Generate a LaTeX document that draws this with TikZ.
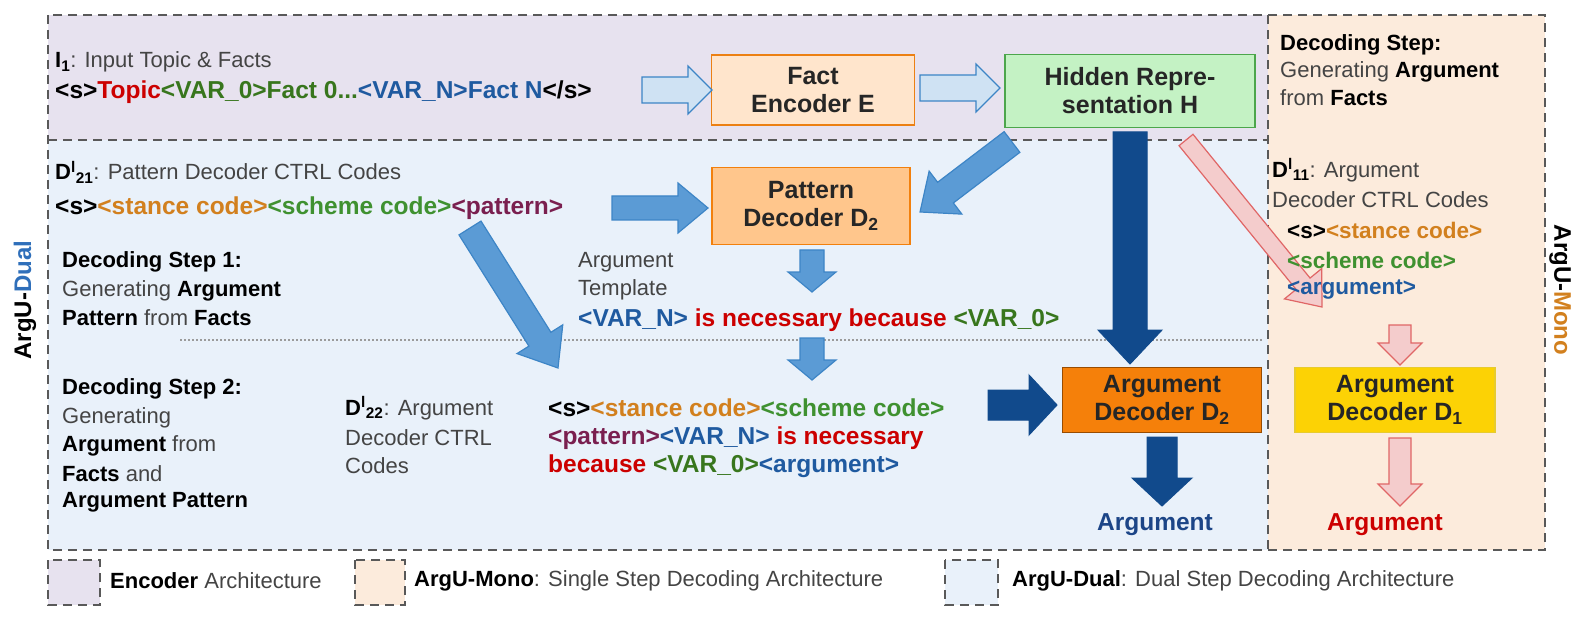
\documentclass[tikz,border=0pt]{standalone}
\usepackage{fontspec}
\setmainfont{Liberation Sans}
\begin{document}
\definecolor{encbg}{HTML}{E7E2EF}\definecolor{monobg}{HTML}{FCEBDC}\definecolor{dualbg}{HTML}{E9F1FA}
\definecolor{dash}{HTML}{595959}\definecolor{txg}{HTML}{444444}
\definecolor{cR}{HTML}{CC0000}\definecolor{cG}{HTML}{38761D}\definecolor{cB}{HTML}{1F5AA0}
\definecolor{cO}{HTML}{D2801E}\definecolor{cS}{HTML}{3F9130}\definecolor{cP}{HTML}{7A1F4F}
\definecolor{cDB}{HTML}{1C4587}\definecolor{cDual}{HTML}{2F6FBA}
\definecolor{lbF}{HTML}{CFE2F3}\definecolor{mbF}{HTML}{5B9BD5}\definecolor{bE}{HTML}{3D85C6}
\definecolor{dbF}{HTML}{114A8C}\definecolor{pkF}{HTML}{F4CCCC}\definecolor{pkE}{HTML}{E06666}
\newcommand\barrow[8]{%
 \pgfmathsetmacro\ang{atan2(#4-#2,#3-#1)}\pgfmathsetmacro\len{veclen(#3-#1,#4-#2)}%
 \begin{scope}[shift={(#1,#2)},rotate=\ang]
 \draw[#8] (0,-#5)--(\len-#7,-#5)--(\len-#7,-#6)--(\len,0)--(\len-#7,#6)--(\len-#7,#5)--(0,#5)--cycle;
 \end{scope}}
\begin{tikzpicture}[x=1pt,y=1pt,
 reg/.style={draw=dash,dashed,dash pattern=on 9pt off 6pt,line width=2pt},
 box/.style={draw,line width=1.5pt,align=center,font=\fontsize{25}{28}\selectfont\bfseries,text=black!85},
 lt/.style={anchor=west,inner sep=0,font=\fontsize{22}{26}\selectfont,text=txg},
 ct/.style={anchor=west,inner sep=0,font=\fontsize{24.5}{28}\selectfont\bfseries},
 mt/.style={anchor=west,inner sep=0,font=\fontsize{22.5}{26}\selectfont\bfseries},
 la/.style={fill=lbF,draw=bE,line width=1.2pt},
 ma/.style={fill=mbF,draw=bE,line width=1.2pt},
 da/.style={fill=dbF,draw=dbF,line width=1pt},
 pa/.style={fill=pkF,draw=pkE,line width=1.2pt}]
\useasboundingbox (0,0) rectangle (1581,-620);
% regions
\fill[encbg] (48,-15) rectangle (1268,-140);
\fill[dualbg] (48,-140) rectangle (1268,-550);
\fill[monobg] (1268,-15) rectangle (1545,-550);
\draw[reg] (48,-15) rectangle (1545,-550);
\draw[reg] (48,-140) -- (1268,-140);
\draw[reg] (1268,-15) -- (1268,-550);
\draw[dash!60,dotted,line width=2pt] (180,-340) -- (1262,-340);
% boxes
\node[box,fill=orange!20,draw=orange!70!brown,minimum width=203,minimum height=70] (fe) at (813,-90) {Fact\\Encoder E};
\node[box,fill=green!20!white!90!gray,draw=green!50!black!70,minimum width=250,minimum height=73] (hr) at (1130,-91) {Hidden Repre-\\sentation H};
\node[box,fill=orange!45,draw=orange!80!brown,minimum width=198,minimum height=77] (pd) at (811,-206) {Pattern\\Decoder D\textsubscript{2}};
\node[box,fill=orange!85!brown,draw=orange!60!black,minimum width=199,minimum height=65] (ad2) at (1162,-400) {Argument\\Decoder D\textsubscript{2}};
\node[box,fill=yellow!70!orange,draw=yellow!60!brown,minimum width=200,minimum height=65] (ad1) at (1395,-400) {Argument\\Decoder D\textsubscript{1}};
% arrows
\barrow{642}{-90}{712}{-90}{13}{24}{24}{la}
\barrow{920}{-88}{1000}{-88}{13}{24}{24}{la}
\barrow{1012}{-142}{920}{-212}{13}{27}{32}{ma}
\barrow{612}{-208}{708}{-208}{12}{25}{30}{ma}
\barrow{812}{-250}{812}{-292}{12}{24}{20}{ma}
\barrow{812}{-338}{812}{-380}{12}{24}{20}{ma}
\barrow{470}{-228}{558}{-368}{13}{27}{34}{ma}
\barrow{1130}{-132}{1130}{-364}{17}{32}{34}{da}
\barrow{988}{-405}{1057}{-405}{15}{30}{28}{da}
\barrow{1162}{-437}{1162}{-506}{15}{30}{28}{da}
\barrow{1186}{-140}{1322}{-307}{9}{24}{30}{pa}
\barrow{1400}{-325}{1400}{-365}{11}{22}{22}{pa}
\barrow{1400}{-438}{1400}{-506}{11}{22}{22}{pa}
% encoder texts
\node[lt] (i1) at (55,-62) {\textbf{\color{black}I\textsubscript{1}}: Input Topic \& Facts};
\node[ct] (il) at (55,-92) {<s>\textcolor{cR}{Topic}\textcolor{cG}{<VAR\_0>Fact 0...}\textcolor{cB}{<VAR\_N>Fact N}</s>};
% dual texts
\node[lt] (d21) at (55,-172) {\textbf{\color{black}D\textsuperscript{l}\textsubscript{21}}: Pattern Decoder CTRL Codes};
\node[ct] (d21c) at (55,-208) {<s>\textcolor{cO}{<stance code>}\textcolor{cS}{<scheme code>}\textcolor{cP}{<pattern>}};
\node[lt] (s1a) at (62,-262) {\textbf{\color{black}Decoding Step 1:}};
\node[lt] (s1b) at (62,-291) {Generating \textbf{\color{black}Argument}};
\node[lt] (s1c) at (62,-318) {\textbf{\color{black}Pattern} from \textbf{\color{black}Facts}};
\node[lt] (s2a) at (62,-389) {\textbf{\color{black}Decoding Step 2:}};
\node[lt] (s2b) at (62,-418) {Generating};
\node[lt] (s2c) at (62,-446) {\textbf{\color{black}Argument} from};
\node[lt] (s2d) at (62,-474) {\textbf{\color{black}Facts} and};
\node[lt] (s2e) at (62,-502) {\textbf{\color{black}Argument Pattern}};
\node[lt] (d22a) at (345,-408) {\textbf{\color{black}D\textsuperscript{l}\textsubscript{22}}: Argument};
\node[lt] (d22b) at (345,-438) {Decoder CTRL};
\node[lt] (d22c) at (345,-466) {Codes};
\node[ct] (c1) at (548,-408) {<s>\textcolor{cO}{<stance code>}\textcolor{cS}{<scheme code>}};
\node[ct] (c2) at (548,-438) {\textcolor{cP}{<pattern>}\textcolor{cB}{<VAR\_N>}~\textcolor{cR}{is necessary}};
\node[ct] (c3) at (548,-466) {\textcolor{cR}{because}~\textcolor{cG}{<VAR\_0>}\textcolor{cB}{<argument>}};
\node[lt] (at1) at (578,-262) {Argument};
\node[lt] (at2) at (578,-290) {Template};
\node[ct] (at3) at (578,-320) {\textcolor{cB}{<VAR\_N>}~\textcolor{cR}{is necessary because}~\textcolor{cG}{<VAR\_0>}};
\node[ct,anchor=center,text=cDB] (o2) at (1155,-525) {Argument};
\node[ct,anchor=center,text=cR] (o1) at (1385,-525) {Argument};
% mono texts
\node[lt] (m1) at (1280,-45) {\textbf{\color{black}Decoding Step:}};
\node[lt] (m2) at (1280,-72) {Generating \textbf{\color{black}Argument}};
\node[lt] (m3) at (1280,-98) {from \textbf{\color{black}Facts}};
\node[lt] (m4) at (1272,-170) {\textbf{\color{black}D\textsuperscript{l}\textsubscript{11}}: Argument};
\node[lt] (m5) at (1272,-200) {Decoder CTRL Codes};
\node[mt] (m6) at (1287,-230) {<s>\textcolor{cO}{<stance code>}};
\node[mt,text=cS] (m7) at (1287,-260) {<scheme code>};
\node[mt,text=cB] (m8) at (1287,-290) {<argument>};
% side labels
\node[rotate=90,font=\fontsize{24}{28}\selectfont\bfseries] (sd) at (25,-300) {ArgU-\textcolor{cDual}{Dual}};
\node[rotate=-90,font=\fontsize{24}{28}\selectfont\bfseries] (sm) at (1560,-290) {ArgU-\textcolor{cO}{Mono}};
% legend
\draw[reg,fill=encbg,line width=1.5pt] (48,-560) rectangle (100,-605);
\node[lt,text=txg] (l1) at (110,-581) {\textbf{\color{black}Encoder} Architecture};
\draw[reg,fill=monobg,line width=1.5pt] (355,-560) rectangle (405,-605);
\node[lt] (l2) at (414,-581) {\textbf{\color{black}ArgU-Mono}: Single Step Decoding Architecture};
\draw[reg,fill=dualbg,line width=1.5pt] (945,-560) rectangle (998,-605);
\node[lt] (l3) at (1012,-581) {\textbf{\color{black}ArgU-Dual}: Dual Step Decoding Architecture};
\end{tikzpicture}
\end{document}
